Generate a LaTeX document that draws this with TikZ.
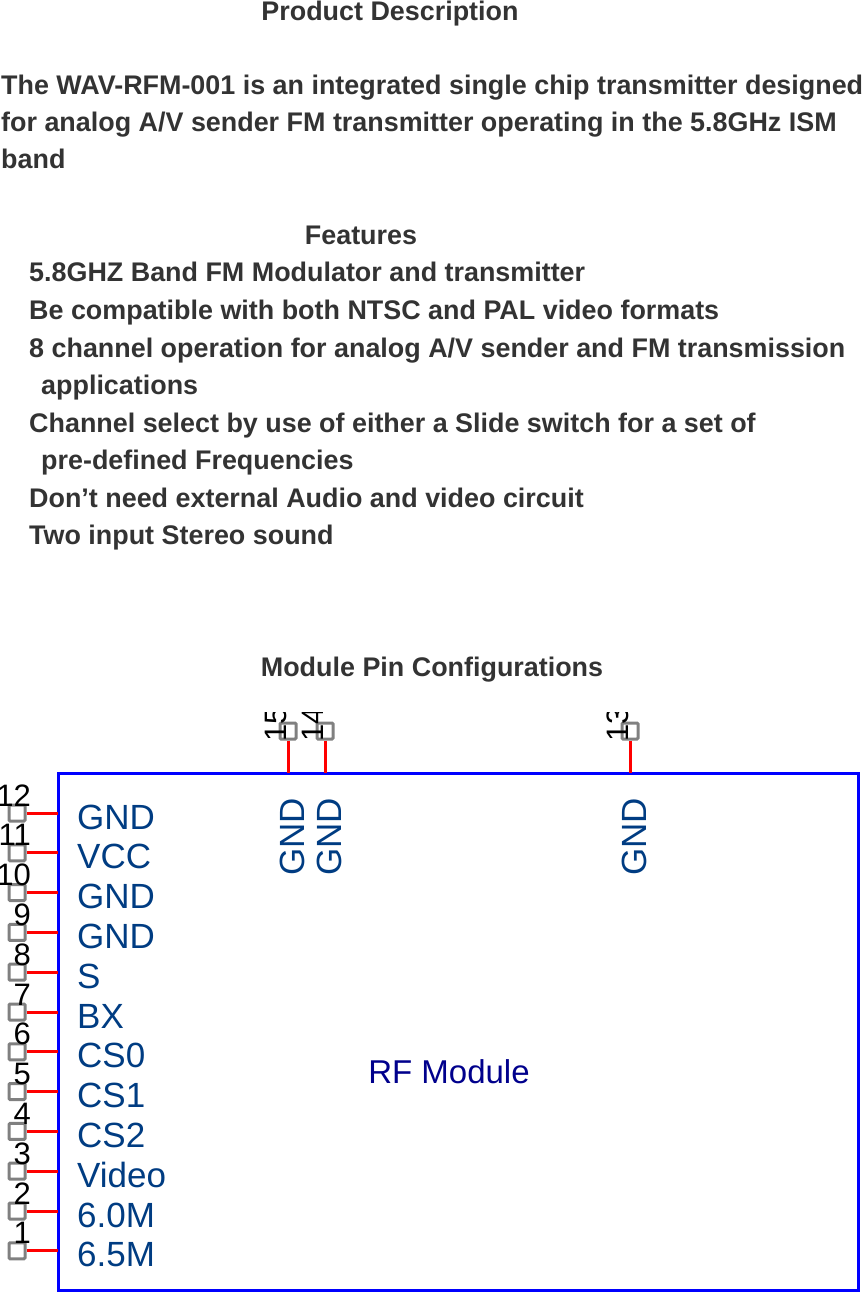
\documentclass[tikz,border=0pt]{standalone}
\usepackage{fontspec}
\setmainfont{Liberation Sans}
\begin{document}
\begin{tikzpicture}[x=1pt,y=-1pt,
  hdr/.style={font=\bfseries\fontsize{26.9}{30}\selectfont, text=black!80, anchor=base west, inner sep=0},
  plbl/.style={font=\fontsize{35}{38}\selectfont, text={rgb,255:red,0;green,60;blue,130}, anchor=base west, inner sep=0},
  pnum/.style={font=\fontsize{31}{34}\selectfont, anchor=base east, inner sep=0},
  pad/.style={draw=gray, line width=3pt, minimum size=16pt, inner sep=0, rounded corners=1pt},
  lead/.style={red, line width=3pt}]
\useasboundingbox (0,0) rectangle (864,1293);
\node[hdr, anchor=base] (t1) at (390,20) {Product Description};
\node[hdr] (p1) at (1,94) {The WAV-RFM-001 is an integrated single chip transmitter designed};
\node[hdr] (p2) at (1,131) {for analog A/V sender FM transmitter operating in the 5.8GHz ISM};
\node[hdr] (p3) at (1,168) {band};
\node[hdr, anchor=base] (t2) at (361,244) {Features};
\node[hdr] (f1) at (29,281) {5.8GHZ Band FM Modulator and transmitter};
\node[hdr] (f2) at (29,319) {Be compatible with both NTSC and PAL video formats};
\node[hdr] (f3) at (29,357) {8 channel operation for analog A/V sender and FM transmission};
\node[hdr] (f3b) at (41,394) {applications};
\node[hdr] (f4) at (29,432) {Channel select by use of either a Slide switch for a set of};
\node[hdr] (f4b) at (41,469) {pre-defined Frequencies};
\node[hdr] (f5) at (29,507) {Don’t need external Audio and video circuit};
\node[hdr] (f6) at (29,544) {Two input Stereo sound};
\node[hdr, anchor=base] (t3) at (432,676) {Module Pin Configurations};
% box
\draw[blue, line width=3pt] (58,773) rectangle (858,1290);
\node[font=\fontsize{33}{36}\selectfont, text={rgb,255:red,0;green,0;blue,140}] (rf) at (449,1072) {RF Module};
% left pins
\foreach \n/\l [count=\i from 0] in {12/GND,11/VCC,10/GND,9/GND,8/S,7/BX,6/CS0,5/CS1,4/CS2,3/Video,2/6.0M,1/6.5M}{
  \pgfmathsetmacro{\yy}{813+39.8*\i}
  \node[pad] (p\n) at (17,\yy) {};
  \draw[lead] (p\n.east) -- (58,\yy);
  \node[pnum] (n\n) at (31,\yy-7) {\n};
  \node[plbl] (l\n) at (77,\yy+16) {\l};
}
% top pins
\foreach \n/\x in {15/288,14/325,13/630}{
  \node[pad] (p\n) at (\x,731) {};
  \draw[lead] (p\n.south) -- (\x,773);
  \begin{scope}
    \clip (\x-40,712) rectangle (\x+40,745);
    \node[pnum, anchor=base west, rotate=90] (n\n) at (\x-2,742) {\n};
  \end{scope}
  \node[plbl, rotate=90] (l\n) at (\x+16,876) {GND};
}
\end{tikzpicture}
\end{document}
